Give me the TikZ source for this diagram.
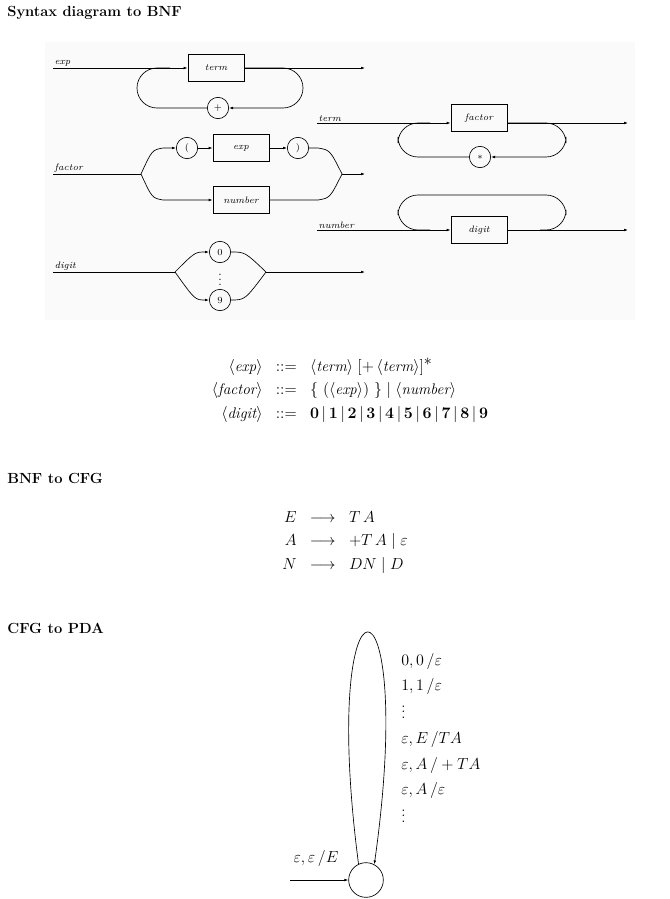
\documentclass[tikz,border=0pt]{standalone}
\usepackage{amsmath,amssymb}
\usetikzlibrary{arrows.meta}

\tikzset{
  box/.style={draw, minimum width=42pt, minimum height=20pt, font=\scriptsize\itshape},
  tok/.style={draw, circle, minimum size=16pt, inner sep=0pt, font=\scriptsize},
  lbl/.style={font=\scriptsize\itshape, anchor=south west, inner sep=1pt},
  flow/.style={-{Latex[length=3pt,width=2pt]}},
  loop/.style={rounded corners=15pt},
  head/.style={font=\fontsize{11}{13}\selectfont\bfseries, anchor=base west, inner sep=0pt},
  state/.style={draw, circle, minimum size=26pt, inner sep=0pt}
}

\begin{document}
\begin{tikzpicture}[x=0.75pt, y=-0.75pt, line width=0.5pt, font=\fontsize{11.5}{14}\selectfont]
  \useasboundingbox (0,0) rectangle (669,899);

  % syntax diagrams
  \node[head] (h1) at (7,17) {Syntax diagram to BNF};
  \fill[gray!4] (45,42) rectangle (635,320);

  % exp
  \node[lbl] (lexp) at (53,68) {exp};
  \node[box] (term) at (216,68) {term};
  \node[tok] (plus) at (218,108) {$+$};
  \coordinate (eexp) at (365,68);
  \draw[flow] (53,68) -- (term.west);
  \draw[flow] (term.east) -- (eexp);
  \draw[flow, loop] (term.east) -- (303,68) |- (plus.east);
  \draw[loop] (plus.west) -| (137,68) -- (170,68);

  % term
  \node[lbl] (lterm) at (317,123) {term};
  \node[box] (factor) at (479,118) {factor};
  \node[tok] (star) at (480,157) {$*$};
  \coordinate (eterm) at (628,123);
  \draw[flow] (317,123) -- (factor.west |- 0,123);
  \draw[flow] (factor.east |- 0,123) -- (eterm);
  \draw[flow, loop] (factor.east |- 0,123) -- (566,123) |- (star.east);
  \draw[loop] (star.west) -| (398,123) -- (430,123);

  % factor
  \node[lbl] (lfactor) at (53,174) {factor};
  \node[tok] (lp) at (187,148) {(};
  \node[box] (exp) at (241,148) {exp};
  \node[tok] (rp) at (298,148) {)};
  \node[box] (number) at (241,200) {number};
  \coordinate (fs) at (141,174);
  \coordinate (fj) at (342,174);
  \coordinate (efactor) at (365,174);
  \draw (53,174) -- (fs);
  \draw[flow] (fs) .. controls (152,150) .. (163,148) -- (lp.west);
  \draw[flow] (lp) -- (exp);
  \draw[flow] (exp) -- (rp);
  \draw (rp.east) -- (318,148) .. controls (330,150) .. (fj);
  \draw[flow] (fs) .. controls (152,198) .. (163,200) -- (number.west);
  \draw (number.east) -- (318,200) .. controls (330,198) .. (fj);
  \draw[flow] (fj) -- (efactor);

  % number
  \node[lbl] (lnumber) at (317,230) {number};
  \node[box] (digit) at (479,230) {digit};
  \coordinate (enumber) at (628,230);
  \draw[flow] (317,230) -- (digit.west);
  \draw[flow] (digit.east) -- (enumber);
  \draw[loop] (430,230) -- (398,230) |- (566,195) -- (566,230) -- (540,230);

  % digit
  \node[lbl] (ldigit) at (53,272) {digit};
  \node[tok] (d0) at (220,252) {0};
  \node[tok] (d9) at (220,300) {9};
  \node[font=\small, inner sep=0pt] (dots) at (220,276) {$\vdots$};
  \coordinate (ds) at (175,272);
  \coordinate (dj) at (266,272);
  \coordinate (edigit) at (365,272);
  \draw (53,272) -- (ds);
  \draw[flow] (ds) .. controls (195,252) .. (d0.west);
  \draw[flow] (ds) .. controls (195,300) .. (d9.west);
  \draw (d0.east) .. controls (245,252) .. (dj);
  \draw (d9.east) .. controls (245,300) .. (dj);
  \draw[flow] (dj) -- (edigit);

  % BNF
  \node (bnf) at (350,390) {\renewcommand{\arraystretch}{1.25}$\begin{array}{rcl}
    \langle\textit{exp}\rangle & ::= & \langle\textit{term}\rangle\;[+\,\langle\textit{term}\rangle]^{\textstyle *}\\
    \langle\textit{factor}\rangle & ::= & \{\ (\langle\textit{exp}\rangle)\ \}\mid\langle\textit{number}\rangle\\
    \langle\textit{digit}\rangle & ::= & \mathbf{0}\,|\,\mathbf{1}\,|\,\mathbf{2}\,|\,\mathbf{3}\,|\,\mathbf{4}\,|\,\mathbf{5}\,|\,\mathbf{6}\,|\,\mathbf{7}\,|\,\mathbf{8}\,|\,\mathbf{9}
  \end{array}$};

  % CFG
  \node[head] (h2) at (7,483) {BNF to CFG};
  \node (cfg) at (345,541) {\renewcommand{\arraystretch}{1.25}$\begin{array}{rcl}
    E & \longrightarrow & T\,A\\
    A & \longrightarrow & +T\,A\mid\varepsilon\\
    N & \longrightarrow & DN\mid D
  \end{array}$};

  % PDA
  \node[head] (h3) at (7,633) {CFG to PDA};
  \node[state] (q) at (366,880) {};
  \coordinate (qin) at (290,880);
  \draw[flow] (qin) -- (q.west);
  \node (init) at (316,858) {$\varepsilon,\varepsilon\,/E$};
  \draw[flow] (q.115) .. controls (318,555) and (418,555) .. (q.62);
  \node[anchor=north west, align=left, inner sep=0pt] (rules) at (401,647) {%
    \renewcommand{\arraystretch}{1.36}$\begin{array}{@{}l@{}}
    0,0\,/\varepsilon\\ 1,1\,/\varepsilon\\ \vdots\\ \varepsilon,E\,/TA\\
    \varepsilon,A\,/+TA\\ \varepsilon,A\,/\varepsilon\\ \vdots
    \end{array}$};
\end{tikzpicture}
\end{document}
